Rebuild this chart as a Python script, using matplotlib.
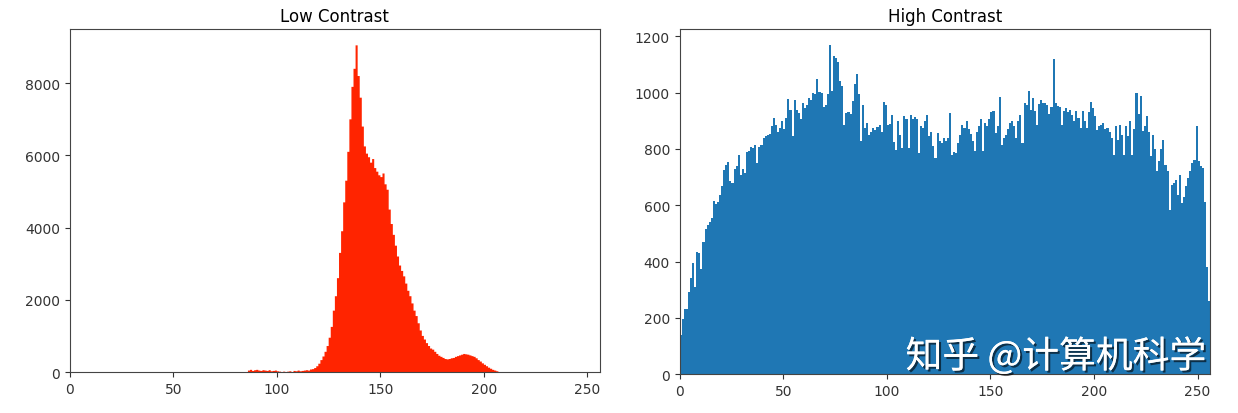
import numpy as np
import matplotlib
matplotlib.use("Agg")
import matplotlib.pyplot as plt
import matplotlib.patheffects as pe

# grey levels 0..255
levels = np.arange(256)

# low contrast histogram: non-zero counts start at level 86
low_start = 86
low_counts = [
    40, 60, 30, 50, 60, 40, 30, 50, 40, 30, 50, 20, 30, 40,          # 86-99
    20, 10, 0, 10, 0, 10, 20, 0, 30, 20, 40, 20, 30, 40, 50, 40,      # 100-115
    70, 80, 110, 160, 230, 330, 430, 560, 720, 950, 1250, 1700,       # 116-127
    2100, 2600, 3300, 3900, 4700, 5300, 6100, 7000, 7900, 8400,       # 128-137
    9050, 8200, 7600, 6800, 6250, 6050, 5950, 5800, 5900, 5650,       # 138-147
    5550, 5450, 5400, 5500, 5200, 5050, 4500, 4100, 3800, 3500,       # 148-157
    3200, 2950, 2800, 2650, 2450, 2250, 2100, 1900, 1700, 1550,       # 158-167
    1350, 1150, 1000, 900, 800, 720, 650, 620, 560, 500, 450, 420,    # 168-179
    390, 360, 350, 360, 380, 390, 420, 440, 460, 480, 500, 490,       # 180-191
    480, 460, 440, 420, 380, 330, 290, 240, 200, 160, 120, 90,        # 192-203
    60, 40, 20,                                                       # 204-206
]
low_full = np.zeros(256)
low_full[low_start:low_start + len(low_counts)] = low_counts

# high contrast histogram, one count per level
high_counts = [
    140, 195, 230, 232, 290, 340, 395, 310, 435, 430, 375, 470, 515, 530, 540, 555,
    615, 605, 612, 635, 670, 725, 742, 755, 685, 678, 730, 738, 780, 706, 730, 714,
    790, 792, 808, 802, 815, 750, 808, 815, 838, 845, 850, 852, 880, 910, 886, 862,
    876, 898, 872, 910, 978, 940, 845, 975, 940, 928, 905, 962, 945, 958, 980, 975,
    1000, 995, 1048, 1002, 1000, 948, 958, 994, 1168, 1005, 1130, 1124, 1110, 1040, 1025, 887,
    928, 930, 925, 970, 1030, 1065, 995, 830, 955, 875, 892, 850, 862, 875, 868, 878,
    887, 860, 968, 955, 885, 890, 922, 826, 798, 900, 850, 805, 916, 908, 805, 922,
    905, 915, 905, 786, 880, 875, 900, 922, 845, 860, 810, 768, 857, 830, 822, 840,
    830, 840, 928, 780, 790, 785, 820, 850, 886, 875, 898, 870, 852, 828, 792, 862,
    880, 905, 792, 893, 880, 905, 930, 935, 857, 880, 985, 815, 840, 851, 870, 893,
    898, 880, 838, 900, 922, 821, 964, 955, 1005, 940, 982, 935, 887, 960, 975, 962,
    965, 958, 923, 950, 1120, 962, 952, 948, 887, 934, 946, 930, 940, 920, 899, 934,
    910, 875, 934, 900, 875, 930, 968, 945, 917, 869, 880, 887, 893, 870, 875, 860,
    839, 780, 880, 833, 887, 850, 780, 881, 845, 899, 780, 870, 1000, 923, 988, 863,
    880, 917, 860, 774, 851, 800, 720, 756, 800, 833, 744, 720, 583, 673, 680, 690,
    637, 708, 607, 631, 670, 696, 720, 750, 760, 880, 756, 740, 732, 610, 380, 260,
]

fig = plt.figure(figsize=(12.38, 4.14), dpi=100)
ax1 = fig.add_axes([0.0565, 0.099, 0.428, 0.8285])
ax2 = fig.add_axes([0.549, 0.094, 0.4284, 0.8335])

ax1.hist(levels, bins=256, range=(0, 256), weights=low_full,
         histtype='stepfilled', color='#ff2400')
ax1.set_xlim([0, 256])
ax1.set_title('Low Contrast')

ax2.hist(levels, bins=256, range=(0, 256), weights=high_counts)
ax2.set_xlim([0, 256])
ax2.set_title('High Contrast')

for ax in (ax1, ax2):
    ax.tick_params(colors='#333333')
    for sp in ax.spines.values():
        sp.set_color('#444444')

# watermark
fig.text(0.974, 0.135, '知乎 @计算机科学', ha='right', va='center',
         fontsize=26.5, color='white',
         family=['Noto Sans CJK SC', 'DejaVu Sans'],
         path_effects=[pe.withSimplePatchShadow(offset=(1.5, -1.5), shadow_rgbFace='black', alpha=0.6),
                       pe.Normal()])

fig.savefig('out.png', dpi=100)
